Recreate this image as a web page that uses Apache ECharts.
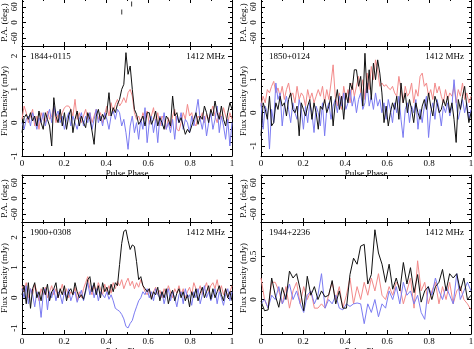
<!DOCTYPE html>
<html><head><meta charset="utf-8">
<script src="https://cdn.jsdelivr.net/npm/echarts@6/dist/echarts.min.js"></script>
<style>html,body{margin:0;padding:0;background:#fff}#c{width:474px;height:349px}</style>
</head><body><div id="c"></div>
<script>
// ---------- DATA ----------
const xTicks = [0, 0.2, 0.4, 0.6, 0.8, 1];
const paTicks = [-60, 0, 60];
const names = ['1844+0115', '1850+0124', '1900+0308', '1944+2236'];
const freqLabel = '1412 MHz';

// P.A. points (phase, deg) for 1844+0115
const tlPA = [[0.475, 40], [0.522, 71]];

const tlBlack = [-0.3,0.15,0.25,0.1,0.3,0.05,0.2,-0.1,0.35,0.0,
-0.2,0.3,0.1,-0.1,-0.7,0.75,0.2,0.0,0.4,-0.1,
0.3,-0.2,0.2,0.4,-0.3,0.1,0.35,-0.1,0.2,0.0,
-0.15,0.3,0.1,-0.25,-0.65,0.2,0.4,0.05,0.25,0.1,
0.3,0.9,0.2,0.45,0.3,0.55,0.7,1.0,1.15,2.1,
1.45,1.7,1.0,0.4,0.25,-0.05,0.05,0.2,-0.1,0.3,
0.3,-0.05,0.1,0.35,-0.1,0.15,0.0,-0.2,0.2,0.1,
-0.1,0.8,0.2,0.3,0.0,0.15,-0.1,-0.35,-0.2,-0.3,
-0.1,0.1,0.3,-0.05,0.2,0.1,0.5,0.3,0.0,0.4,
0.2,0.65,0.3,0.1,0.5,0.1,-0.1,0.3,0.6,0.4];
const tlRed = [0.1,0.5,0.3,0.0,0.2,0.4,-0.1,0.2,-0.2,0.3,
0.1,0.0,0.35,0.1,0.2,0.5,0.0,0.25,0.1,0.3,
0.45,0.5,0.5,0.4,0.2,0.7,0.1,0.3,0.0,0.2,
0.4,0.1,0.3,0.0,0.2,0.4,0.1,0.3,0.0,0.25,
0.5,0.2,0.6,0.3,0.55,0.7,0.5,0.6,0.75,0.6,
0.9,1.0,0.8,0.3,0.1,0.2,0.0,0.3,0.1,0.35,
-0.05,0.2,0.45,0.0,0.3,-0.1,0.2,0.1,-0.2,0.15,
-0.15,0.2,0.4,-0.2,-0.25,0.0,0.3,0.1,0.55,0.2,
0.3,0.0,-0.1,0.2,0.1,0.3,0.0,0.25,0.1,0.3,
0.5,0.2,0.0,0.3,0.1,0.45,0.2,0.0,0.3,0.1];
const tlBlue = [0.0,-0.2,0.1,0.2,-0.1,0.3,0.1,-0.2,0.15,0.0,
0.3,-0.1,0.2,0.4,0.0,0.5,0.2,0.35,0.0,0.2,
-0.2,0.1,0.3,-0.1,0.2,0.0,-0.2,0.1,0.3,-0.1,
0.2,0.0,0.3,-0.2,0.1,0.4,0.0,0.2,-0.1,0.3,
0.1,-0.2,0.2,0.35,0.1,0.4,0.3,-0.1,0.1,-0.3,
-0.8,-0.1,0.2,-0.3,0.0,-0.5,0.1,-0.2,0.45,-0.6,
0.0,0.2,-0.3,0.1,-0.6,0.2,-0.1,0.3,-0.2,0.0,
-0.3,0.1,-0.5,0.2,0.0,0.3,-0.2,0.1,0.0,-0.3,
0.2,-0.1,0.3,0.7,0.1,-0.2,0.2,-0.4,0.0,0.3,
-0.2,0.1,0.5,-0.3,0.2,-0.1,-0.5,0.1,-0.7,0.0];

const trBlack = [-0.7,0.3,0.1,-0.2,0.5,-0.4,-0.3,0.3,0.1,0.5,
0.2,0.3,-0.1,0.4,0.6,0.1,0.0,0.2,-0.7,0.3,
0.1,-0.1,0.2,0.4,-0.2,0.3,0.0,-0.5,0.2,0.1,
0.4,0.0,0.2,0.5,-0.4,0.3,0.7,0.1,0.5,-0.2,
0.6,0.3,0.9,0.7,1.3,1.3,0.8,1.1,0.2,1.8,
0.6,1.3,0.4,1.5,1.0,1.6,1.2,0.6,-0.3,0.2,
-0.4,0.0,0.3,0.1,0.5,-0.2,0.9,0.3,0.6,0.0,
0.4,0.1,-0.3,0.3,0.0,-0.2,0.2,0.4,0.1,0.6,
0.2,-0.1,0.5,0.3,0.0,0.1,0.4,0.2,0.5,0.0,
0.3,-0.2,-0.9,0.4,0.1,0.5,0.8,0.2,-0.3,0.0];
const trRed = [0.2,0.5,0.3,0.7,0.6,0.8,0.95,0.6,0.75,0.5,
0.8,0.4,0.7,0.9,0.5,0.6,0.3,0.8,0.4,0.6,
0.5,0.2,0.7,0.4,0.6,0.3,0.5,0.7,0.5,0.8,
0.3,0.7,0.4,0.9,1.45,0.5,0.2,0.6,0.1,0.8,
0.4,0.7,0.3,0.9,0.5,0.8,1.1,0.6,1.0,0.4,
1.2,0.7,1.4,1.0,1.6,1.3,0.8,0.9,0.8,0.85,
0.75,0.7,0.8,0.6,0.5,1.1,0.7,0.3,0.8,0.5,
0.6,0.9,0.3,0.7,0.5,1.1,1.2,0.8,0.9,0.5,
0.7,0.4,0.9,0.6,0.8,0.5,0.3,0.7,0.4,0.6,
0.5,0.8,0.3,0.7,0.5,0.9,0.4,0.6,0.3,0.5];
const trBlue = [0.3,-0.5,0.2,0.0,-1.1,0.1,-0.3,0.9,0.4,0.6,
-0.4,0.2,0.5,0.1,-0.3,0.3,0.0,-0.2,0.4,0.1,
-0.5,0.2,-0.3,0.3,0.0,-0.6,0.2,0.0,-0.4,0.3,
-0.7,0.1,0.3,-0.2,0.2,0.4,0.0,0.5,0.2,0.6,
0.1,0.3,0.7,0.2,0.5,0.0,0.4,0.6,0.1,0.3,
0.9,0.2,0.5,0.1,0.6,0.2,0.4,0.0,0.3,-0.2,
0.4,0.1,-0.3,0.3,0.0,0.5,-0.2,-0.75,0.1,0.3,
-0.3,0.2,0.0,0.4,-0.5,0.1,-0.3,0.2,0.5,-0.75,
0.0,0.3,-0.2,0.4,0.1,-0.4,0.2,0.0,0.3,-0.1,
0.2,1.0,0.3,-0.2,0.1,0.4,0.0,0.3,-0.2,0.1];

const blBlack = [0.1,0.4,-0.2,0.5,-0.35,0.3,0.5,0.0,0.2,-0.1,
0.35,0.1,0.45,-0.1,0.2,0.3,0.5,0.0,0.3,0.1,
0.4,-0.1,0.2,0.3,0.1,0.5,0.2,0.0,0.1,-0.05,
0.25,0.6,0.7,0.2,0.5,0.1,0.4,0.0,0.5,0.2,
0.35,0.1,0.45,0.2,0.5,0.4,1.1,1.8,2.2,2.25,
1.9,1.6,1.75,1.7,1.2,0.6,0.7,0.4,0.3,0.2,
0.3,-0.05,0.2,0.1,0.35,-0.1,0.2,0.0,0.3,-0.2,
0.1,0.25,-0.1,0.15,0.3,0.0,0.2,-0.1,0.1,-0.3,
0.2,0.0,0.3,-0.1,0.15,0.35,0.0,0.2,0.4,-0.05,
0.3,0.0,0.2,0.4,0.1,-0.1,0.3,0.0,0.2,-0.1];
const blRed = [0.4,0.2,0.5,0.0,0.3,0.1,0.45,0.2,-0.1,0.3,
0.1,0.35,0.0,0.2,0.4,0.1,0.3,0.0,0.2,0.45,
0.1,0.3,0.0,0.2,0.1,0.35,-0.1,0.2,0.0,0.3,
0.5,0.7,0.3,0.1,0.4,0.2,0.5,0.3,0.1,0.45,
0.2,0.4,0.15,0.5,0.3,0.55,0.4,0.6,0.3,0.5,
0.65,0.4,0.55,0.3,0.5,0.35,0.6,0.4,0.2,0.1,
0.3,0.0,0.2,0.35,0.1,0.25,0.0,0.3,0.1,0.4,
0.2,0.0,0.3,0.15,0.4,0.1,0.3,0.0,0.2,0.35,
0.1,0.5,0.3,0.2,0.4,0.1,0.3,0.5,0.2,0.4,
0.5,0.3,0.6,0.2,0.4,0.1,0.3,0.0,0.2,0.4];
const blBlue = [0.3,0.0,0.4,-0.2,0.3,0.1,-0.3,0.2,0.0,-0.65,
0.1,0.3,-0.4,0.2,0.0,0.3,-0.1,0.2,0.1,-0.2,
0.2,0.0,0.3,-0.1,0.1,0.2,-0.15,0.05,0.25,-0.1,
0.2,0.5,0.1,0.4,0.0,0.3,-0.1,0.2,0.1,0.0,
0.2,-0.05,0.1,-0.1,-0.35,-0.4,-0.45,-0.55,-0.7,-0.95,
-1.0,-0.85,-0.75,-0.5,-0.3,-0.1,0.0,0.2,0.1,0.3,
0.0,0.2,-0.1,0.3,0.1,0.0,0.2,-0.2,0.1,0.3,
-0.1,0.2,0.0,-0.3,0.1,0.2,-0.2,0.3,0.0,0.1,
-0.25,0.2,0.0,0.3,-0.2,0.1,0.4,0.0,0.2,-0.1,
0.1,0.3,-0.2,0.2,0.0,-0.25,0.1,0.3,-0.1,0.2];

const brBlack = [-0.02,-0.13,-0.12,0.25,0.05,-0.09,0.14,0.0,0.33,0.25,
0.3,0.12,-0.13,0.27,0.05,0.15,0.0,0.1,0.03,0.05,
0.22,-0.05,0.1,-0.1,-0.1,0.29,0.48,0.41,0.62,0.64,
0.18,0.29,0.81,0.54,0.41,0.2,0.41,0.12,0.25,0.1,
0.43,0.18,0.37,0.08,0.29,-0.03,0.1,0.15,0.0,0.15,
0.2,0.35,0.1,0.3,0.25,0.3,0.1,0.25,0.0,0.05];
const brRed = [0.25,0.0,-0.1,0.2,0.2,0.1,-0.05,0.15,-0.1,0.1,
0.2,-0.05,0.15,0.0,0.1,-0.1,-0.1,-0.05,-0.1,0.05,
0.2,0.0,0.15,-0.1,0.05,0.25,-0.05,0.15,0.0,0.2,
0.05,0.25,0.1,0.3,0.05,0.0,0.15,0.05,0.2,0.15,
-0.05,0.1,0.25,-0.1,0.45,0.1,0.2,-0.05,0.1,0.2,
-0.05,0.15,0.0,0.2,-0.05,0.1,0.15,0.0,-0.05,-0.12];
const brBlue = [-0.05,0.0,-0.1,0.05,0.0,0.15,-0.05,0.05,0.18,0.0,
0.1,-0.05,-0.15,0.05,0.1,-0.05,0.05,0.3,-0.1,0.0,
-0.05,0.05,-0.1,-0.12,-0.05,-0.08,-0.05,-0.04,-0.05,-0.28,
-0.05,-0.15,0.0,-0.2,-0.05,-0.1,0.1,0.0,0.15,-0.05,
0.2,0.05,0.1,-0.05,0.05,-0.15,-0.23,0.15,0.05,0.25,
0.1,0.0,0.15,0.05,-0.05,0.3,0.0,0.1,0.2,0.1];

const fluxTicks = [[-1,0,1,2],[-1,0,1],[-1,0,1,2],[0,0.5]];
const fluxRanges = [[-1,2.3],[-1.31,2.02],[-1.2,2.51],[-0.4,0.9]];

// ---------- LAYOUT / BUILD ----------
const FONT = 'Liberation Serif';
const layout = [
  {left:22,  paTop:-1,  paH:47, fTop:46,  fH:110, minor:0.2},
  {left:261, paTop:-1,  paH:47, fTop:46,  fH:110, minor:0.2},
  {left:22,  paTop:175, paH:47, fTop:222, fH:112, minor:0.2},
  {left:261, paTop:175, paH:47, fTop:222, fH:112, minor:0.1}
];
const W = 210;
const grids = [], xAxes = [], yAxes = [], series = [];
function addGrid(r){ grids.push({outerBoundsMode:'none', containLabel:false, show:false, left:r.left, top:r.top, width:r.width, height:r.height}); return grids.length-1; }
function minorVals(min, max, step, majors){
  const out=[]; const k0=Math.ceil(min/step-1e-9), k1=Math.floor(max/step+1e-9);
  for(let k=k0;k<=k1;k++){ const v=+(k*step).toFixed(6); if(!majors.some(m=>Math.abs(m-v)<1e-6)) out.push(v);} return out;
}
const txt = {color:'#000', fontSize:9, fontFamily:FONT};
function box(rect, ymin, ymax, yMajor, yMinorStep, isFlux, yName){
  const gM = addGrid(rect), gm = addGrid(rect);
  const xMinor = minorVals(0,1,0.1,xTicks);
  const yMinor = minorVals(ymin,ymax,yMinorStep,yMajor);
  const line = {show:true, onZero:false, lineStyle:{color:'#000', width:1}};
  const noLine = {show:false, onZero:false};
  const base = {type:'value', splitLine:{show:false}, minorTick:{show:false}};
  const xi = xAxes.length, yi = yAxes.length;
  xAxes.push(Object.assign({}, base, {gridIndex:gM, position:'bottom', min:0, max:1, axisLine:line,
    axisTick:{inside:true, length:4, customValues:xTicks, lineStyle:{color:'#000'}},
    axisLabel:Object.assign({show:isFlux, customValues:xTicks, margin:3}, txt),
    name:isFlux?'Pulse Phase':'', nameLocation:'middle', nameGap:11, nameTextStyle:txt}));
  xAxes.push(Object.assign({}, base, {gridIndex:gM, position:'top', min:0, max:1, axisLine:line,
    axisTick:{inside:true, length:4, customValues:xTicks, lineStyle:{color:'#000'}}, axisLabel:{show:false}}));
  xAxes.push(Object.assign({}, base, {gridIndex:gm, position:'bottom', min:0, max:1, axisLine:noLine,
    axisTick:{inside:true, length:2, customValues:xMinor, lineStyle:{color:'#000'}}, axisLabel:{show:false}}));
  xAxes.push(Object.assign({}, base, {gridIndex:gm, position:'top', min:0, max:1, axisLine:noLine,
    axisTick:{inside:true, length:2, customValues:xMinor, lineStyle:{color:'#000'}}, axisLabel:{show:false}}));
  yAxes.push(Object.assign({}, base, {gridIndex:gM, position:'left', min:ymin, max:ymax, axisLine:line,
    axisTick:{inside:true, length:4, customValues:yMajor, lineStyle:{color:'#000'}},
    axisLabel:Object.assign({show:true, customValues:yMajor, rotate:90, margin:3}, txt),
    name:yName, nameLocation:'middle', nameGap:13, nameTextStyle:txt}));
  yAxes.push(Object.assign({}, base, {gridIndex:gM, position:'right', min:ymin, max:ymax, axisLine:line,
    axisTick:{inside:true, length:4, customValues:yMajor, lineStyle:{color:'#000'}}, axisLabel:{show:false}}));
  yAxes.push(Object.assign({}, base, {gridIndex:gm, position:'left', min:ymin, max:ymax, axisLine:noLine,
    axisTick:{inside:true, length:2, customValues:yMinor, lineStyle:{color:'#000'}}, axisLabel:{show:false}}));
  yAxes.push(Object.assign({}, base, {gridIndex:gm, position:'right', min:ymin, max:ymax, axisLine:noLine,
    axisTick:{inside:true, length:2, customValues:yMinor, lineStyle:{color:'#000'}}, axisLabel:{show:false}}));
  return {x:xi, y:yi};
}
function pairs(a){ const n=a.length; return a.map((v,i)=>[i/(n-1), v]); }
const data = [[tlBlack,tlRed,tlBlue],[trBlack,trRed,trBlue],[blBlack,blRed,blBlue],[brBlack,brRed,brBlue]];
const paData = [tlPA, [], [], []];
const graphic = [];
layout.forEach((L,p)=>{
  const pa = box({left:L.left, top:L.paTop, width:W, height:L.paH}, -90, 90, paTicks, 20, false, 'P.A. (deg.)');
  const fl = box({left:L.left, top:L.fTop, width:W, height:L.fH}, fluxRanges[p][0], fluxRanges[p][1], fluxTicks[p], L.minor, true, 'Flux Density (mJy)');
  if (paData[p].length) series.push({type:'scatter', xAxisIndex:pa.x, yAxisIndex:pa.y, data:paData[p], symbol:'rect', symbolSize:[1,5], itemStyle:{color:'#000'}, silent:true});
  const [b,r,bl] = data[p];
  series.push({type:'line', xAxisIndex:fl.x, yAxisIndex:fl.y, data:pairs(r), showSymbol:false, lineStyle:{color:'#f38a8a', width:1}, silent:true});
  series.push({type:'line', xAxisIndex:fl.x, yAxisIndex:fl.y, data:pairs(bl), showSymbol:false, lineStyle:{color:'#7b7bf2', width:1}, silent:true});
  series.push({type:'line', xAxisIndex:fl.x, yAxisIndex:fl.y, data:pairs(b), showSymbol:false, lineStyle:{color:'#111', width:1}, silent:true});
  graphic.push({type:'text', x:L.left+8, y:L.fTop+11, style:{text:names[p], align:'left', verticalAlign:'middle', fill:'#000', font:'9px "Liberation Serif"'}});
  graphic.push({type:'text', x:L.left+W-7, y:L.fTop+11, style:{text:freqLabel, align:'right', verticalAlign:'middle', fill:'#000', font:'9px "Liberation Serif"'}});
});
const chart = echarts.init(document.getElementById('c'), null, {renderer:'canvas'});
chart.setOption({animation:false, backgroundColor:'#fff', grid:grids, xAxis:xAxes, yAxis:yAxes, series:series, graphic:graphic});
</script></body></html>
